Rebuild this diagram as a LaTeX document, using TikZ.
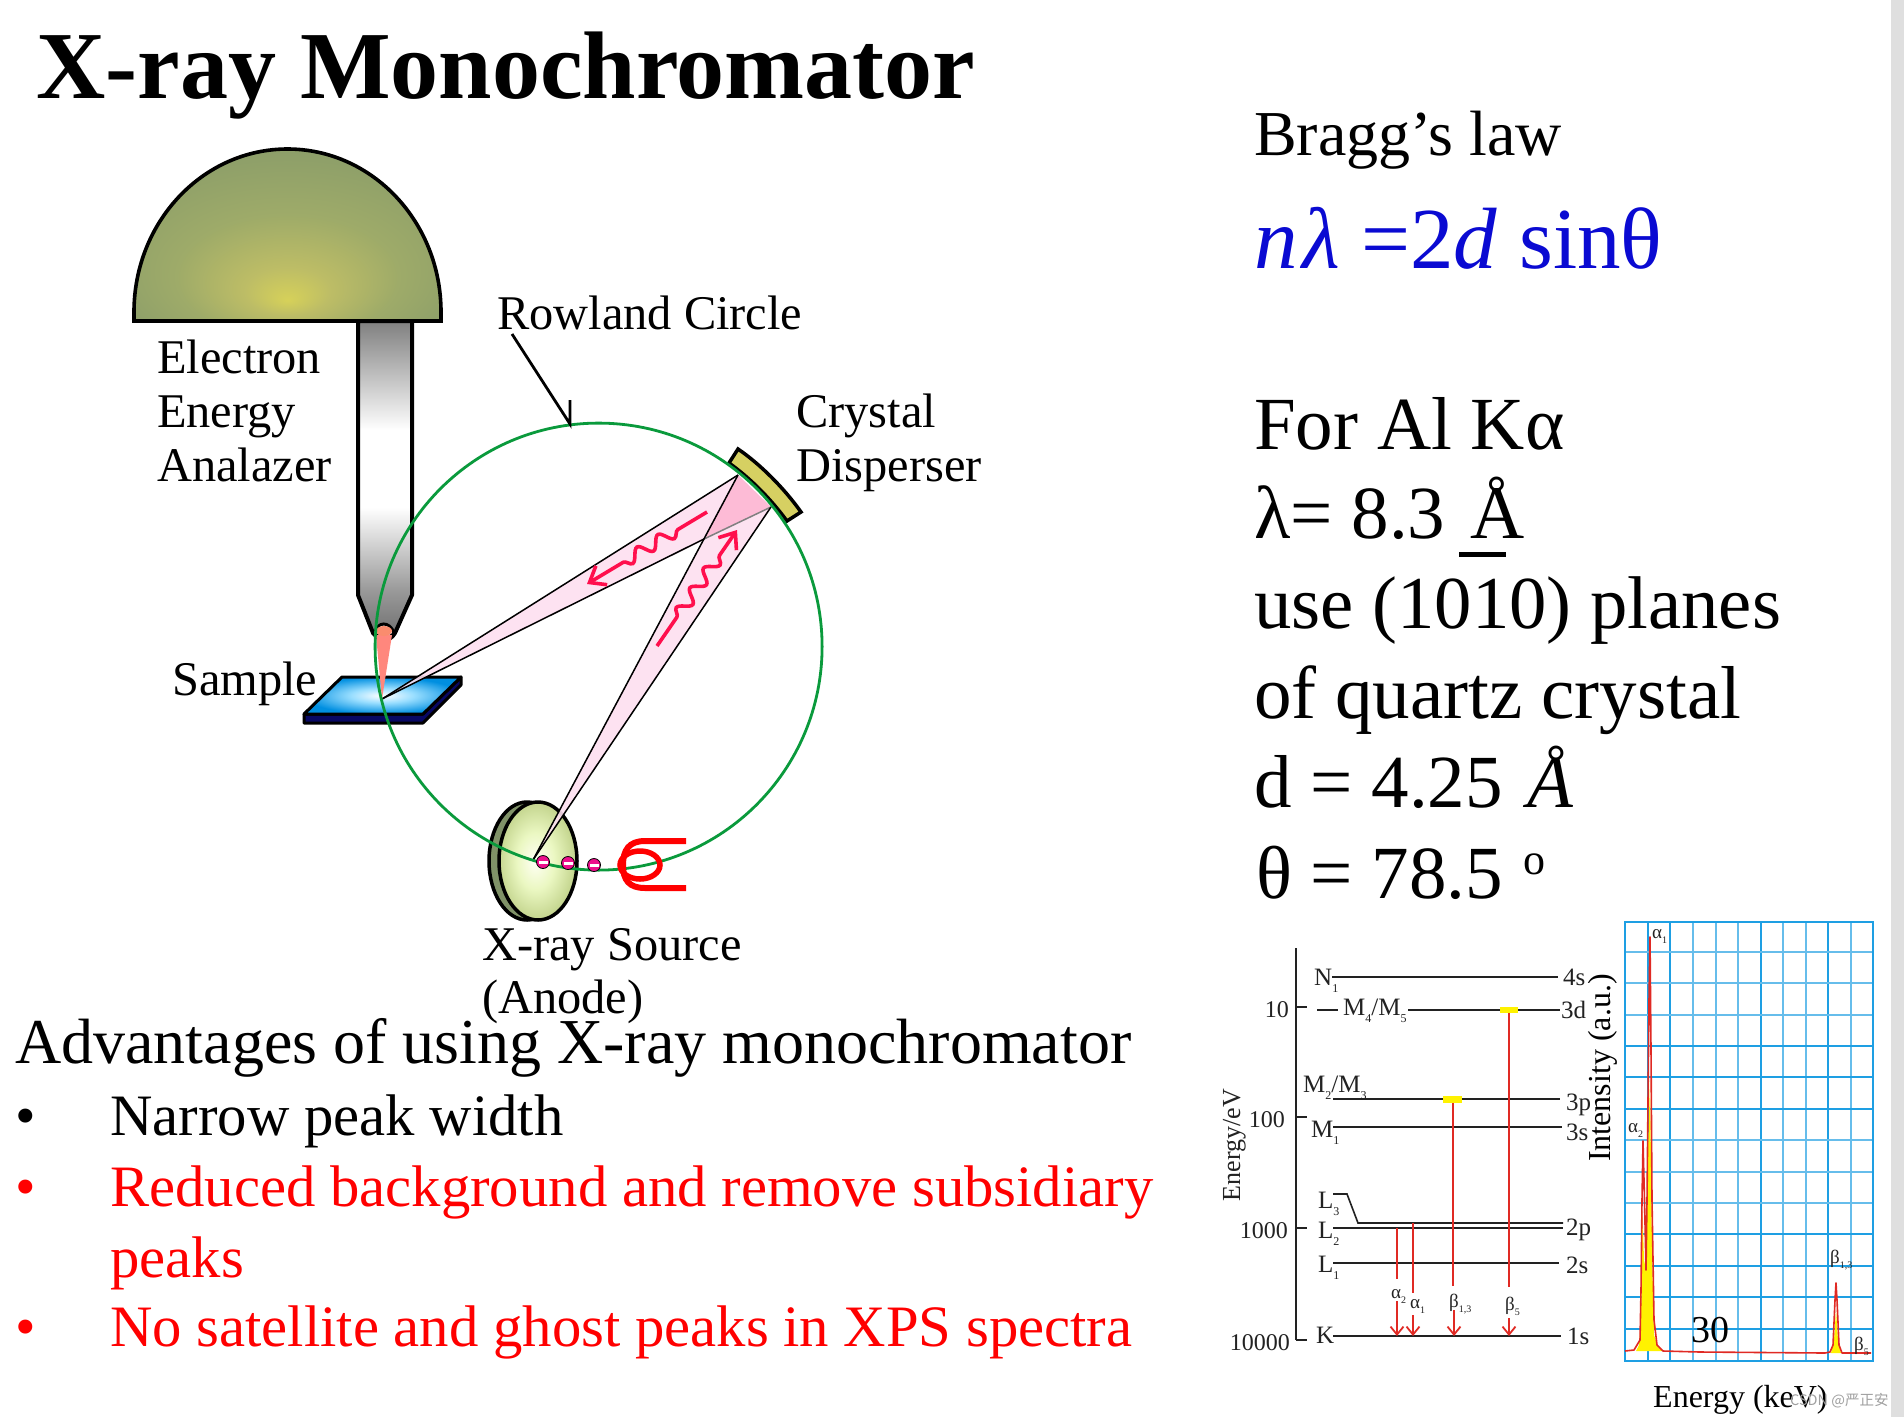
\documentclass[tikz,border=0pt]{standalone}
\usepackage{fontspec}
\setmainfont{Liberation Serif}
\newfontfamily\cjkwm{Noto Sans CJK SC}
\usetikzlibrary{arrows.meta,decorations.pathmorphing}
\definecolor{gridblue}{HTML}{1E9FE3}
\definecolor{gridlight}{HTML}{66BDEB}
\definecolor{levelred}{HTML}{E02A24}
\definecolor{beampink}{HTML}{FDDFF0}
\definecolor{beamdeep}{HTML}{FDBBD6}
\definecolor{wavered}{HTML}{FF0F4D}
\definecolor{rowland}{HTML}{0A9A3C}
\definecolor{crystalfill}{HTML}{D6D062}
\definecolor{elecmag}{HTML}{EC0F8C}
\definecolor{levelblack}{HTML}{222222}
\definecolor{lawblue}{HTML}{0A0AD2}
\definecolor{navyside}{HTML}{080864}
\definecolor{anodeback}{HTML}{809268}
\definecolor{salmonbeam}{HTML}{FF877D}
\definecolor{salmontip}{HTML}{FA8C6E}
\pgfdeclareradialshading{domeshade}{\pgfpoint{0bp}{-19bp}}{rgb(0bp)=(.84,.82,.35);rgb(7bp)=(.74,.74,.40);rgb(18bp)=(.62,.67,.41);rgb(32bp)=(.55,.62,.41);rgb(50bp)=(.55,.62,.41)}
\pgfdeclareverticalshading{shaftshade}{100bp}{rgb(0bp)=(.42,.42,.42);rgb(25bp)=(.42,.42,.42);rgb(33bp)=(.6,.6,.6);rgb(46bp)=(1,1,1);rgb(58bp)=(1,1,1);rgb(75bp)=(.5,.5,.5);rgb(100bp)=(.5,.5,.5)}
\pgfdeclareradialshading{sampleshade}{\pgfpoint{0bp}{0bp}}{rgb(0bp)=(1,1,1);rgb(10bp)=(.6,.87,1);rgb(25bp)=(0,.56,.88);rgb(50bp)=(0,.56,.88)}
\pgfdeclareradialshading{anodeshade}{\pgfpoint{-2bp}{0bp}}{rgb(0bp)=(1,1,.96);rgb(12bp)=(.92,.97,.76);rgb(27bp)=(.74,.81,.52);rgb(50bp)=(.74,.81,.52)}
\newcommand{\sbe}[1]{\raisebox{-.3em}{\fontsize{12}{12}\selectfont #1}}
\newcommand{\sbg}[1]{\raisebox{-.3em}{\fontsize{10}{10}\selectfont #1}}
\tikzset{
  txt/.style={inner sep=0pt,anchor=base west},
  big/.style={txt,font=\fontsize{75}{80}\selectfont},
  adv/.style={txt,font=\fontsize{58.7}{60}\selectfont},
  lab/.style={txt,font=\fontsize{48.4}{50}\selectfont},
  elab/.style={txt,font=\fontsize{25}{27}\selectfont,text=levelblack},
  tick/.style={inner sep=0pt,anchor=base east,font=\fontsize{24}{27}\selectfont,text=levelblack},
  glab/.style={txt,font=\fontsize{19}{20}\selectfont,text=levelblack},
  level/.style={levelblack,line width=1.6pt},
  trans/.style={levelred,line width=1.6pt},
  transarrow/.style={trans,-{Straight Barb[length=8pt,width=13pt,line width=1.8pt]}},
  beamedge/.style={black,line width=1.5pt},
  wavy/.style={wavered,line width=3.6pt,-{Straight Barb[length=14pt,width=22pt,line width=3.6pt]},decorate},
}
\begin{document}
\begin{tikzpicture}[x=1pt,y=-1pt]
\useasboundingbox (0,0) rectangle (1904,1417);
\fill[white] (0,0) rectangle (1904,1417);
\fill[gray!25] (1891,0) rectangle (1904,1417);

% ---- title and right-hand text
\node[txt,font=\bfseries\fontsize{96}{100}\selectfont] (title) at (36,98) {X-ray Monochromator};
\node[txt,font=\fontsize{64}{70}\selectfont] (bragg) at (1254,155) {Bragg’s law};
\node[txt,text=lawblue,font=\fontsize{87}{90}\selectfont] (law) at (1254,268) {\textit{n}\hspace{5pt}\textit{λ}\hspace{-1pt} =2\textit{d} sinθ};
\node[big] (foral) at (1254,449) {For Al Kα};
\node[big] (lam) at (1254,538) {λ= 8.3 \hspace{6pt}Å};
\coordinate (ubarL) at (1459,554);
\coordinate (ubarR) at (1506,554);
\draw[line width=5pt] (ubarL) -- (ubarR);
\node[big,font=\fontsize{74.7}{80}\selectfont] (use) at (1254,628) {use (1010) planes};
\node[big] (quartz) at (1254,718) {of quartz crystal};
\node[big] (dval) at (1254,807) {d = 4.25 \hspace{6pt}\textit{Å}};
\node[big] (thval) at (1256,898) {θ = 78.5};
\node[txt,font=\fontsize{44}{46}\selectfont] (deg) at (1523,874) {o};

% ---- lower-left text
\node[txt,font=\fontsize{64}{66}\selectfont] (adv) at (15,1063) {Advantages of using X-ray monochromator};
\node[adv] (b1) at (15,1135) {•};
\node[adv] (t1) at (110,1135) {Narrow peak width};
\node[adv,text=red] (b2) at (15,1206) {•};
\node[adv,text=red] (t2) at (110,1206) {Reduced background and remove subsidiary};
\node[adv,text=red] (t2b) at (110,1277) {peaks};
\node[adv,text=red] (b3) at (15,1346) {•};
\node[adv,text=red] (t3) at (110,1346) {No satellite and ghost peaks in XPS spectra};

% ---- analyser
\path[shading=shaftshade,draw=black,line width=4pt]
  (358,321) -- (358,595) -- (373,633) .. controls (380,642) and (390,642) .. (395,633) -- (412,595) -- (412,321) -- cycle;
\path[shading=domeshade,draw=black,line width=3.6pt]
  (134,321) -- (134,312) arc[start angle=180,end angle=0,x radius=153.5,y radius=-163] -- (441,321) -- cycle;
\draw[black,line width=3pt,fill=white] (375,633) .. controls (377,621) and (390,621) .. (394,633) .. controls (390,639) and (378,639) .. (375,633) -- cycle;

% ---- sample
\path[fill=navyside,draw=black,line width=3pt,line join=round]
  (304,714) -- (304,723) -- (423,723) -- (461,685) -- (461,677) -- (423,714) -- cycle;
\path[shading=sampleshade,draw=black,line width=3pt,line join=round]
  (342,677) -- (461,677) -- (423,714) -- (304,714) -- cycle;

% ---- anode
\filldraw[fill=anodeback,draw=black,line width=3.5pt] (527,861) ellipse[x radius=38,y radius=59];
\path[shading=anodeshade,draw=black,line width=3.5pt] (538,861) ellipse[x radius=39,y radius=59];

% ---- beams
\coordinate (S) at (382,699);
\coordinate (A) at (533,860);
\coordinate (P) at (738,475);
\coordinate (Q) at (771,507);
\coordinate (X) at (704,539);
\fill[fill=beampink,opacity=.9] (S) -- (P) -- (Q) -- cycle;
\fill[fill=beampink,opacity=.9] (A) -- (P) -- (Q) -- cycle;
\fill[beamdeep] (P) -- (Q) -- (X) -- cycle;
\draw[beamedge] (S) -- (P);
\draw[beamedge] (S) -- (X);
\draw[gray,line width=1.5pt] (X) -- (Q);
\draw[beamedge] (A) -- (P);
\draw[beamedge] (A) -- (Q);
\fill[salmonbeam] (376,635) -- (392,635) -- (S) -- cycle;
\fill[salmontip] (384,631) ellipse[x radius=8,y radius=5];

% ---- crystal
\path[fill=crystalfill,draw=black,line width=3.5pt,line join=miter]
  (738,449) .. controls (760,464) and (784,488) .. (801,512) -- (787,521) .. controls (770,498) and (750,478) .. (729,463) -- cycle;

% ---- wavy arrows
\coordinate (w1s) at (707,512);
\coordinate (w1e) at (587,584);
\coordinate (w2s) at (657,646);
\coordinate (w2e) at (737,530);
\draw[wavy,decoration={snake,amplitude=6pt,segment length=24.3pt,pre length=34pt,post length=33pt}] (w1s) -- (w1e);
\draw[wavy,decoration={snake,amplitude=6pt,segment length=24pt,pre length=35pt,post length=22pt}] (w2s) -- (w2e);

% ---- Rowland circle
\node[circle,draw=rowland,line width=2.8pt,minimum size=447pt,inner sep=0pt] (rc) at (598.6,646.6) {};

% ---- electrons and filament
\foreach \nm/\ex/\ey in {ea/543/862,eb/568/863,ec/594/865}{
  \node[circle,fill=elecmag,draw=black,line width=.8pt,minimum size=13pt,inner sep=0pt] (\nm) at (\ex,\ey) {};
  \fill[white] (\ex-4.5,\ey-1.5) rectangle (\ex+4.5,\ey+1.5);
}
\draw[red,line width=6pt] (686,841) -- (645,841) .. controls (629,841) and (623,850) .. (623,865) .. controls (623,880) and (629,888) .. (645,888) -- (686,888);
\draw[red,line width=5.5pt] (640,865) ellipse[x radius=20,y radius=14];

% ---- diagram labels
\node[lab] (lrow) at (497,329) {Rowland Circle};
\node[lab] (le1) at (157,373) {Electron};
\node[lab] (le2) at (157,427) {Energy};
\node[lab] (le3) at (157,481) {Analazer};
\node[lab] (lsam) at (172,695) {Sample};
\node[lab] (lc1) at (796,427) {Crystal};
\node[lab] (lc2) at (796,481) {Disperser};
\node[lab] (lx1) at (482,960) {X-ray Source};
\node[lab] (lx2) at (482,1013) {(Anode)};
\coordinate (rp0) at (512,334);
\coordinate (rp1) at (570,424);
\coordinate (rp2) at (570,400);
\draw[black,line width=2.8pt] (rp0) -- (rp1) -- (rp2);

% ---- energy level diagram
\coordinate (ax0) at (1296,948); \coordinate (ax1) at (1296,1340);
\draw[level,line width=1.8pt] (ax0) -- (ax1);
\foreach \ty in {1007,1117,1228,1340}{
  \draw[level] (1296,\ty) -- (1307,\ty);
}
\node[tick] (t10) at (1289,1017) {10};
\node[tick] (t100) at (1285,1127) {100};
\node[tick] (t1k) at (1288,1238) {1000};
\node[tick] (t10k) at (1290,1350) {10000};
\node[elab,rotate=90,anchor=base,font=\fontsize{26}{27}\selectfont] (eaxis) at (1240,1145) {Energy/eV};

\draw[level] (1332,977) -- (1558,977);
\draw[level] (1317,1010) -- (1338,1010);
\draw[level] (1408,1010) -- (1560,1010);
\draw[level] (1333,1099) -- (1560,1099);
\draw[level] (1333,1127) -- (1562,1127);
\draw[level] (1333,1194) -- (1347,1194) -- (1358,1223) -- (1563,1223);
\draw[level] (1333,1228) -- (1563,1228);
\draw[level] (1333,1263) -- (1559,1263);
\draw[level] (1333,1336) -- (1561,1336);

\fill[yellow] (1443,1096) rectangle (1462,1103);
\fill[yellow] (1500,1007) rectangle (1518,1013);

\node[elab] (n1) at (1314,985) {N\sbe{1}};
\node[elab] (m45) at (1343,1015) {M\sbe{4}/M\sbe{5}};
\node[elab] (m23) at (1303,1092) {M\sbe{2}/M\sbe{3}};
\node[elab] (m1) at (1311,1137) {M\sbe{1}};
\node[elab] (l3) at (1318,1208) {L\sbe{3}};
\node[elab] (l2) at (1318,1238) {L\sbe{2}};
\node[elab] (l1) at (1318,1272) {L\sbe{1}};
\node[elab] (kk) at (1316,1343) {K};
\node[elab] (s4) at (1563,985) {4s};
\node[elab] (d3) at (1561,1018) {3d};
\node[elab] (p3) at (1566,1110) {3p};
\node[elab] (s3) at (1566,1140) {3s};
\node[elab] (p2) at (1566,1235) {2p};
\node[elab] (s2) at (1566,1273) {2s};
\node[elab] (s1) at (1567,1344) {1s};

\draw[trans] (1397,1228) -- (1397,1279);
\draw[transarrow] (1397,1301) -- (1397,1336);
\draw[trans] (1413,1223) -- (1413,1293);
\draw[transarrow] (1413,1315) -- (1413,1336);
\draw[trans] (1453,1103) -- (1453,1286);
\draw[transarrow] (1454,1310) -- (1454,1336);
\draw[trans] (1509,1013) -- (1509,1287);
\draw[transarrow] (1509,1318) -- (1509,1336);
\node[glab] (ga2) at (1391,1298) {α\sbg{2}};
\node[glab] (ga1) at (1410,1308) {α\sbg{1}};
\node[glab] (gb13) at (1449,1307) {β\sbg{1,3}};
\node[glab] (gb5) at (1505,1310) {β\sbg{5}};
\node[txt,rotate=90,anchor=base west,font=\fontsize{32}{34}\selectfont] (inten) at (1610,1162) {Intensity (a.u.)};

% ---- spectrum chart
\foreach \gx/\gc in {1648/gridblue,1670/gridblue,1693/gridlight,1716/gridlight,1738/gridlight,1761/gridblue,1783/gridlight,1806/gridlight,1828/gridblue,1851/gridlight}{
  \draw[\gc,line width=1.7pt] (\gx,922) -- (\gx,1361);
}
\foreach \gy/\gc in {952/gridlight,983/gridlight,1015/gridlight,1046/gridblue,1077/gridblue,1109/gridblue,1140/gridlight,1172/gridlight,1203/gridlight,1234/gridblue,1266/gridblue,1297/gridblue,1329/gridblue}{
  \draw[\gc,line width=1.7pt] (1625,\gy) -- (1873,\gy);
}
\draw[gridblue,line width=2.6pt] (1625,922) rectangle (1873,1361);
\fill[yellow] (1636,1351) -- (1639,1345) -- (1641,1320) -- (1642.5,1210) -- (1644,1260) -- (1646,1270) -- (1648,1150) -- (1650,1080) -- (1652,1250) -- (1654,1335) -- (1658,1347) -- (1663,1351) -- cycle;
\fill[yellow] (1831,1353) -- (1834,1340) -- (1836,1310) -- (1838,1340) -- (1841,1353) -- cycle;
\draw[levelred,line width=1.6pt,line join=round]
  (1625,1351) -- (1634,1350) -- (1640,1340) -- (1641,1290) -- (1642,1200) -- (1643,1141) -- (1644.5,1200) -- (1646,1270) -- (1647,1200) -- (1649,1000) -- (1650,937) -- (1651,1050) -- (1652,1200) -- (1654,1320) -- (1657,1345) -- (1663,1351) -- (1700,1352) -- (1825,1353) -- (1830,1352) -- (1833,1345) -- (1835,1300) -- (1836,1283) -- (1837,1300) -- (1839,1345) -- (1842,1353) -- (1871,1353);
\node[glab] (ca1) at (1652,938) {α\sbg{1}};
\node[glab] (ca2) at (1628,1132) {α\sbg{2}};
\node[glab] (cb13) at (1830,1263) {β\sbg{1,3}};
\node[glab] (cb5) at (1854,1350) {β\sbg{5}};
\node[txt,font=\fontsize{38}{40}\selectfont] (n30) at (1691,1342) {30};
\node[txt,font=\fontsize{32}{34}\selectfont] (xlab) at (1653,1407) {Energy (keV)};
\node[txt,text=gray!75,font=\cjkwm\fontsize{14.5}{15}\selectfont] (wm) at (1790,1405) {CSDN @严正安};
\end{tikzpicture}
\end{document}
